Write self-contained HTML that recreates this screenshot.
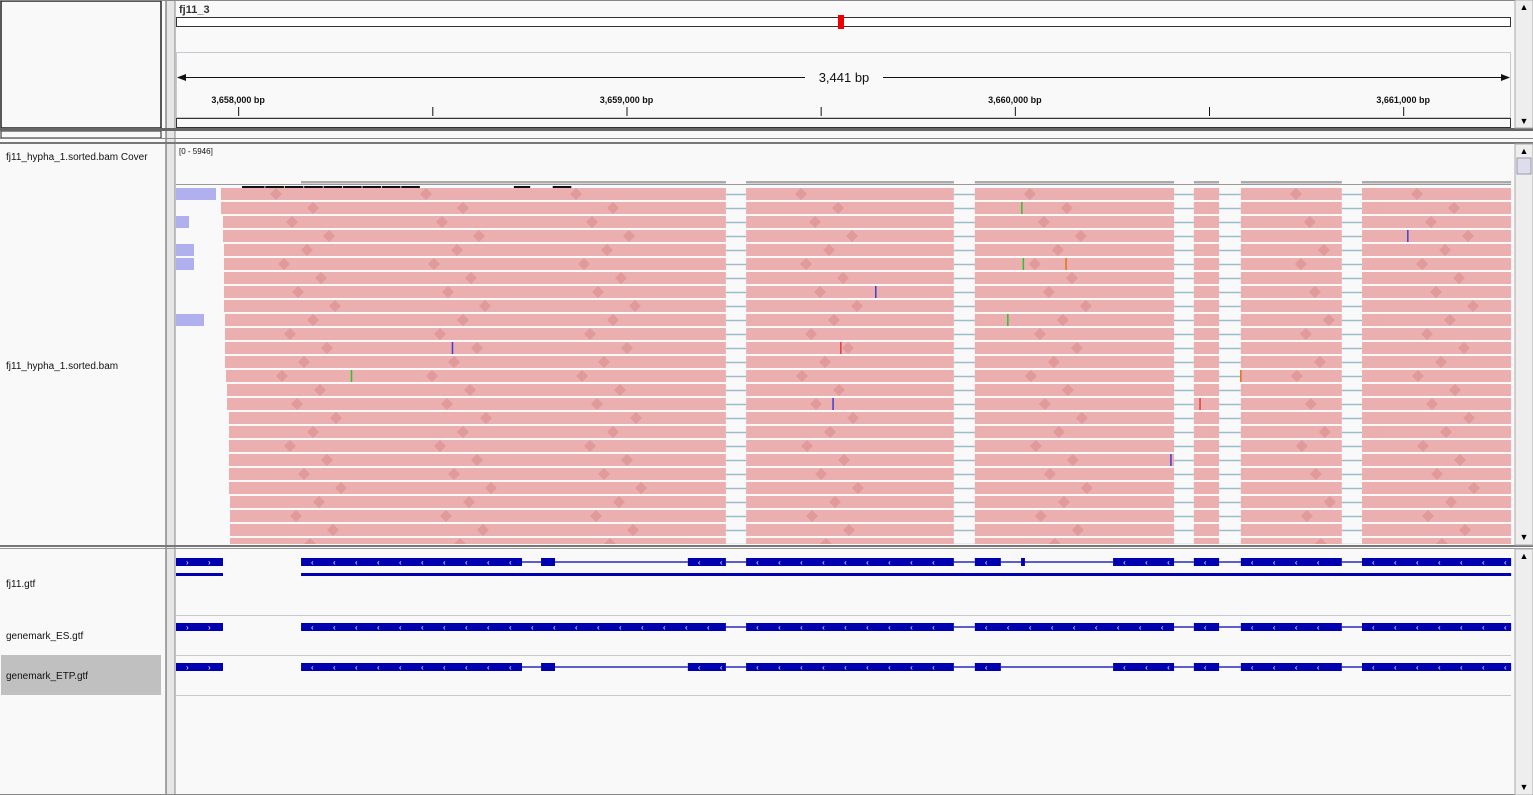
<!DOCTYPE html>
<html><head><meta charset="utf-8"><style>
body{margin:0;width:1533px;height:795px;background:#f9f9f9;overflow:hidden;font-family:"Liberation Sans","DejaVu Sans",sans-serif}
svg{position:absolute;left:0;top:0}
</style></head><body>
<svg id="s" width="1533" height="795" xmlns="http://www.w3.org/2000/svg">
<defs><clipPath id="dataclip"><rect x="175" y="144" width="1340" height="400"/></clipPath></defs>
<rect x="0" y="0" width="1533" height="795" fill="#f9f9f9"/>
<g>
<rect x="1" y="1" width="160" height="127" fill="#f9f9f9" stroke="#222" stroke-width="1.5"/>
<rect x="1" y="131" width="160" height="7" fill="#f9f9f9" stroke="#222" stroke-width="1"/>
<rect x="166" y="0" width="9" height="795" fill="#e6e6e6"/>
<line x1="166" y1="0" x2="166" y2="795" stroke="#555"/>
<line x1="175" y1="0" x2="175" y2="795" stroke="#888"/>
<rect x="1" y="655" width="160" height="40" fill="#c0c0c0"/>
</g>
<g>
<text x="179" y="13" font-size="11" font-weight="bold" fill="#333">fj11_3</text>
<rect x="176.5" y="17.5" width="1334" height="9" fill="#fff" stroke="#333"/>
<rect x="838" y="15" width="6" height="14" fill="#e00"/>
<rect x="176.5" y="52.5" width="1334" height="65" fill="none" stroke="#c8c8d0"/>
<line x1="178" y1="77.5" x2="805" y2="77.5" stroke="#111"/>
<line x1="883" y1="77.5" x2="1509" y2="77.5" stroke="#111"/>
<polygon points="177,77.5 186,74 186,81" fill="#111"/>
<polygon points="1510,77.5 1501,74 1501,81" fill="#111"/>
<text x="844" y="82" font-size="13" text-anchor="middle" fill="#111">3,441 bp</text>
<g id="ticks"></g>
<rect x="176.5" y="118.5" width="1334" height="9" fill="#f9f9f9" stroke="#333"/>
</g>
<g font-size="10" fill="#111">
<text x="6" y="160">fj11_hypha_1.sorted.bam Cover</text>
<text x="6" y="369">fj11_hypha_1.sorted.bam</text>
<text x="6" y="587">fj11.gtf</text>
<text x="6" y="639">genemark_ES.gtf</text>
<text x="6" y="679">genemark_ETP.gtf</text>
</g>
<text x="179" y="154" font-size="8" fill="#111">[0 - 5946]</text>
<line x1="176" y1="184.5" x2="1511" y2="184.5" stroke="#999"/>
<g clip-path="url(#dataclip)">
<g id="cov"></g>
<g id="reads"></g>
</g>
<g id="genes"></g>
<g stroke="#c8c8d0">
<line x1="176" y1="615.5" x2="1511" y2="615.5"/>
<line x1="176" y1="655.5" x2="1511" y2="655.5"/>
<line x1="176" y1="695.5" x2="1511" y2="695.5"/>
</g>
<g>
<rect x="0" y="128" width="1533" height="3" fill="#666"/>
<line x1="0" y1="138.5" x2="1533" y2="138.5" stroke="#888"/>
<rect x="0" y="142" width="1533" height="2" fill="#777"/>
<rect x="0" y="545" width="1533" height="2" fill="#777"/>
<rect x="0" y="548" width="1533" height="1" fill="#999"/>
<line x1="0" y1="0.5" x2="1533" y2="0.5" stroke="#888"/>
<line x1="0" y1="794.5" x2="1533" y2="794.5" stroke="#888"/>
</g>
<g>
<rect x="1515" y="0" width="18" height="128" fill="#eee" stroke="#aaa"/>
<rect x="1515" y="144" width="18" height="401" fill="#eee" stroke="#aaa"/>
<rect x="1517" y="158" width="14" height="16" fill="#dde" stroke="#99a"/>
<rect x="1515" y="549" width="18" height="246" fill="#eee" stroke="#aaa"/>
<text x="1524" y="10" font-size="9" text-anchor="middle">▲</text>
<text x="1524" y="124" font-size="9" text-anchor="middle">▼</text>
<text x="1524" y="154" font-size="9" text-anchor="middle">▲</text>
<text x="1524" y="540" font-size="9" text-anchor="middle">▼</text>
<text x="1524" y="559" font-size="9" text-anchor="middle">▲</text>
<text x="1524" y="790" font-size="9" text-anchor="middle">▼</text>
</g>
</svg>
<script>
const START=3657840, PXPB=0.38835, X0=176;
const tickValues=[3658000,3658500,3659000,3659500,3660000,3660500,3661000];
const tickLabels=["3,658,000 bp","","3,659,000 bp","","3,660,000 bp","","3,661,000 bp"];
const blockStarts=[0,1468,2057,2621,2742,3054];
const blockEnds=[1416,2003,2570,2686,3002,3438];
const rowStartPx=[221,221,223,223,224,224,224,224,224,225,225,225,225,226,227,227,229,229,229,229,229,229,230,230,230,230];
const softClipEnd=[216,0,189,0,194,194,0,0,0,204,0,0,0,0,0,0,0,0,0,0,0,0,0,0,0,0];
const mismatchBp=[[],[2176],[],[3170],[],[2180,2290],[],[1800],[],[2140],[],[710,1710],[],[450,2740],[],[1690,2635],[],[],[],[2560],[],[],[],[],[],[]];
const covStarts=[322,1468,2057,2621,2742,3054];
const covEnds=[1416,2003,2570,2686,3002,3438];
const blackStarts=[170,230,280,330,380,430,480,530,580,870,970];
const blackEnds=[228,278,328,378,428,478,528,578,628,912,1018];
const fj11Starts=[0,322,940,1318,1468,2057,2176,2413,2621,2742,3054];
const fj11Ends=[121,891,976,1416,2003,2124,2186,2570,2686,3002,3438];
const esStarts=[0,322,1468,2057,2621,2742,3054];
const esEnds=[121,1416,2003,2570,2686,3002,3438];
const etpStarts=[0,322,940,1318,1468,2057,2413,2621,2742,3054];
const etpEnds=[121,891,976,1416,2003,2124,2570,2686,3002,3438];

const NS="http://www.w3.org/2000/svg";
function x(bp){return X0+(bp-START)*PXPB;}
function xo(off){return X0+off*PXPB;}
function el(tag,attrs,parent){const e=document.createElementNS(NS,tag);for(const k in attrs)e.setAttribute(k,attrs[k]);parent.appendChild(e);return e;}

const tk=document.getElementById('ticks');
tickValues.forEach((v,i)=>{
  const l=el('line',{x1:x(v)+.5,y1:107,x2:x(v)+.5,y2:116,stroke:'#111'},tk);
  
  
  if(tickLabels[i]){
    const t=el('text',{x:x(v),y:103,'font-size':9,'font-weight':'bold','text-anchor':'middle',fill:'#111'},tk);
    t.textContent=tickLabels[i];
    
    
  }
});

const cov=document.getElementById('cov');
covStarts.forEach((s,i)=>{
  const r=el('rect',{x:xo(s),y:181,width:xo(covEnds[i])-xo(s),height:2.5,fill:'#aaa'},cov);
  
  
});
blackStarts.forEach((s,i)=>{
  const r=el('rect',{x:xo(s),y:186,width:xo(blackEnds[i])-xo(s),height:2,fill:'#111'},cov);
  
  
});

const rd=document.getElementById('reads');
const colors=['#e04040','#30c030','#e07020','#4040d0'];
rowStartPx.forEach((sp,r)=>{
  const y=188+r*14;
  for(let i=0;i<blockStarts.length-1;i++){
    const c=el('line',{x1:xo(blockEnds[i]),y1:y+6.5,x2:xo(blockStarts[i+1]),y2:y+6.5,stroke:'#9bbccb','stroke-width':1.5},rd);
    
    
  }
  blockStarts.forEach((s,i)=>{
    const x1=i===0?sp:xo(s), x2=xo(blockEnds[i]);
    const b=el('rect',{x:x1,y:y,width:x2-x1,height:12,fill:'#ebafaf'},rd);
    
    
    for(let k=x1+55+((r*37)%60);k<x2-10;k+=150){
      const d=el('polygon',{points:`${k-6},${y+6} ${k},${y} ${k+6},${y+6} ${k},${y+12}`,fill:'#e09a9a'},rd);
      
      
    }
  });
  if(softClipEnd[r]){
    const s=el('rect',{x:176,y:y,width:softClipEnd[r]-176,height:12,fill:'#b0b0ee'},rd);
    
    
  }
  mismatchBp[r].forEach((m,j)=>{
    const mm=el('rect',{x:xo(m),y:y,width:1.5,height:12,fill:colors[(r+j)%4]},rd);
    
    
  });
});

const gn=document.getElementById('genes');
function gene(starts,ends,yc,name){
  const g=el('g',{},gn);
  
  
  for(let i=1;i<starts.length-1;i++){
    el('line',{x1:xo(ends[i]),y1:yc,x2:xo(starts[i+1]),y2:yc,stroke:'#0000b0','stroke-width':1.2},g);
  }
  starts.forEach((s,i)=>{
    const ex=el('rect',{x:xo(s),y:yc-4,width:xo(ends[i])-xo(s),height:8,fill:'#0000b0'},g);
    
    
    const right=i===0;
    for(let k=xo(s)+10;k<xo(ends[i])-4;k+=22){
      const t=el('text',{x:k,y:yc+3,'font-size':8,fill:'#fff'},g);
      t.textContent=right?'›':'‹';
    }
  });
}
gene(fj11Starts,fj11Ends,562,'fj11-gene');
gene(esStarts,esEnds,627,'genemark-es-gene');
gene(etpStarts,etpEnds,667,'genemark-etp-gene');
const ln=el('g',{},gn);


el('rect',{x:xo(0),y:573,width:xo(121)-xo(0),height:3,fill:'#0000b0'},ln);
el('rect',{x:xo(322),y:573,width:xo(3438)-xo(322),height:3,fill:'#0000b0'},ln);
</script>
</body></html>
